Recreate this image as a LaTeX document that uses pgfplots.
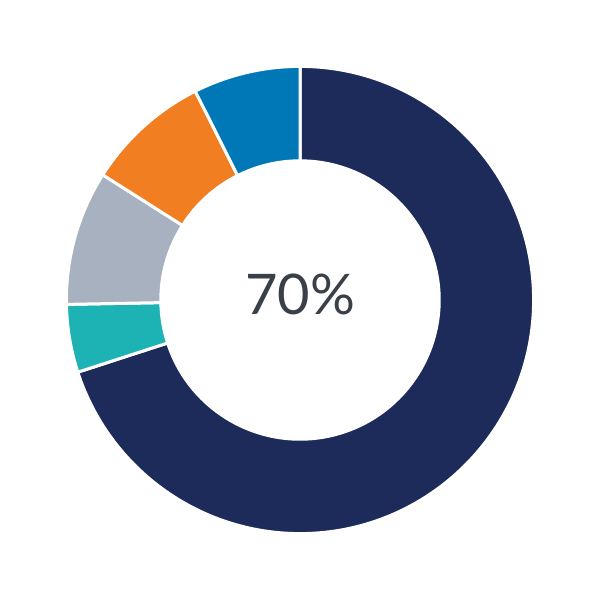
\documentclass[border=0pt]{standalone}
\usepackage{pgfplots}
\usepackage{pgfplotstable}
\pgfplotsset{compat=1.18}
\usepackage{fontspec}
\setmainfont{Lato}
\definecolor{cnavy}{HTML}{1C2B59}
\definecolor{cteal}{HTML}{1DB3B5}
\definecolor{cgray}{HTML}{A8B1BF}
\definecolor{corange}{HTML}{F27E22}
\definecolor{cblue}{HTML}{0077B6}
\definecolor{ctext}{HTML}{3A4048}
\pgfplotstableread{
label value color
A 70 cnavy
B 4.7 cteal
C 9.3 cgray
D 8.6 corange
E 7.4 cblue
}\donutdata
\begin{document}
\begin{tikzpicture}
\begin{axis}[
  scale only axis, width=300pt, height=300pt,
  xmin=-1.2931, xmax=1.2931, ymin=-1.2931, ymax=1.2931,
  hide axis, clip=false]
\path (axis cs:-1.2931,-1.2931) rectangle (axis cs:1.2931,1.2931);
\gdef\cum{0}
\pgfplotsinvokeforeach{0,1,2,3,4}{%
  \pgfplotstablegetelem{#1}{value}\of\donutdata
  \let\val\pgfplotsretval
  \pgfplotstablegetelem{#1}{color}\of\donutdata
  \let\col\pgfplotsretval
  \pgfmathsetmacro\sa{90-3.6*\cum}%
  \pgfmathsetmacro\ea{90-3.6*(\cum+\val)}%
  \pgfmathsetmacro\newcum{\cum+\val}%
  \xdef\cum{\newcum}%
  \edef\tmp{\noexpand\fill[fill=\col, draw=white, line width=1.5pt, line join=miter]
    ([shift={(\sa:116.8pt)}]axis cs:0,0) arc[start angle=\sa, end angle=\ea, radius=116.8pt]
    -- ([shift={(\ea:69.6pt)}]axis cs:0,0) arc[start angle=\ea, end angle=\sa, radius=69.6pt] -- cycle;}%
  \tmp
}
\node[anchor=base, font=\fontsize{28}{30}\selectfont, text=ctext, inner sep=0pt] at ([yshift=-7.5pt]axis cs:0,0) {70\%};
\end{axis}
\end{tikzpicture}
\end{document}
